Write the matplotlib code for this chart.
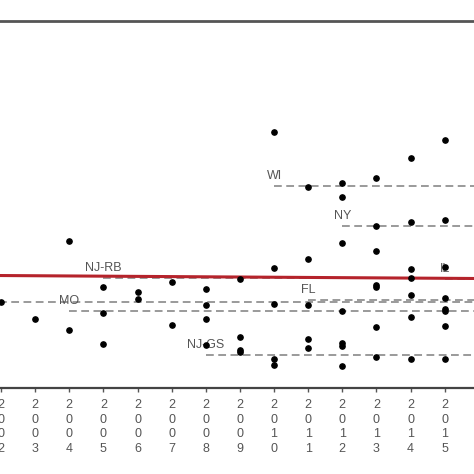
import numpy as np
import matplotlib.pyplot as plt

# years on the x axis
years = [2002, 2003, 2004, 2005, 2006, 2007, 2008, 2009, 2010, 2011, 2012, 2013, 2014, 2015]

# observed points (year, value)
pt_year = ([2002] + [2003] + [2004] * 2 + [2005] * 3 + [2006] * 2 + [2007] * 2 + [2008] * 4
           + [2009] * 4 + [2010] * 5 + [2011] * 5 + [2012] * 7 + [2013] * 7 + [2014] * 7 + [2015] * 8)
pt_val = [8.6,
          6.9,
          14.7, 5.8,
          10.1, 7.5, 4.4,
          9.6, 8.9,
          10.6, 6.3,
          9.9, 8.3, 6.9, 4.3,
          10.9, 5.1, 3.8, 3.6,
          25.6, 12.0, 8.4, 2.9, 2.3,
          20.1, 12.9, 8.3, 4.9, 4.0,
          20.5, 19.1, 14.5, 7.7, 4.5, 4.2, 2.2,
          21.0, 16.2, 13.7, 10.3, 10.1, 6.1, 3.1,
          23.0, 16.6, 11.9, 11.0, 9.3, 7.1, 2.9,
          24.8, 16.8, 12.1, 9.0, 7.9, 7.7, 6.2, 2.9]

# state reference lines: label, start year, level
state = ["", "MO", "NJ-RB", "NJ-GS", "WI", "FL", "NY", "IL", "MI", "IN"]
state_start = [2001.0, 2004, 2005, 2008, 2010, 2011, 2012, 2015, 2016.1, 2016.1]
state_level = [8.6, 7.7, 11.0, 3.35, 20.25, 8.8, 16.2, 10.9, 10.1, 7.3]

# fitted trend line
trend_x = [2001.9, 2016.0]
trend_y = [11.25, 10.95]

fig = plt.figure(figsize=(4.74, 4.74), dpi=100)
ax = fig.add_axes([0.0, 0.1814, 1.0, 0.7743])
plt.rcParams['font.family'] = ['Liberation Sans', 'DejaVu Sans']

xmax = 2015.86
for lab, x0, lv in zip(state, state_start, state_level):
    ax.plot([x0, xmax + 1], [lv, lv], color='#9a9a9a', lw=1.4,
            dashes=(4, 2.3), zorder=1)
    if lab:
        ax.annotate(lab, (x0, lv), xytext=(0, 7), textcoords='offset points',
                    ha='center', va='center', fontsize=9, color='#555555',
                    family='Liberation Sans', annotation_clip=False, clip_on=True)

ax.plot(trend_x, trend_y, color='#b5232b', lw=2.2, zorder=2)
ax.plot(pt_year, pt_val, 'o', color='black', ms=3.8, zorder=3)

ax.set_xlim(2001.97, xmax)
ax.set_ylim(0, 36.7)
ax.set_xticks(years)
ax.set_xticklabels(['\n'.join(str(y)) for y in years], fontsize=9,
                   color='#555555', linespacing=1.28, family='Liberation Sans')
ax.tick_params(axis='x', length=3, width=1, color='#555555', pad=5)
ax.set_yticks([])
for s in ['left', 'right']:
    ax.spines[s].set_visible(False)
ax.spines['bottom'].set_color('#444444')
ax.spines['bottom'].set_linewidth(1.6)
ax.spines['top'].set_color('#555555')
ax.spines['top'].set_linewidth(2)

fig.savefig('out.png', dpi=100)
